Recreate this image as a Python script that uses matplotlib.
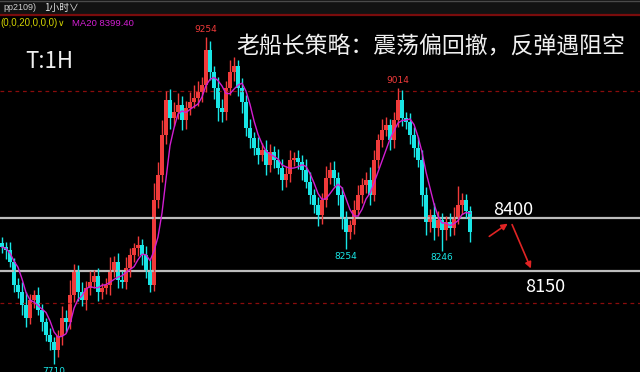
import matplotlib
matplotlib.use("Agg")
import matplotlib.pyplot as plt
from matplotlib.patches import Rectangle
import numpy as np
import pandas as pd

## Data (1H candles, ~4px per bar)
first_open = 8280
closes = [8263, 8249, 8192, 8084, 8051, 7990, 7928, 8013, 8037, 7966,
          7909, 7848, 7815, 7777, 7843, 7928, 7909, 8037, 8155, 8051,
          8013, 8070, 8098, 8126, 8051, 8070, 8084, 8155, 8192, 8108,
          8098, 8164, 8225, 8258, 8273, 8225, 8155, 8084, 8485, 8603,
          8792, 8957, 8872, 8900, 8933, 8862, 8919, 8947, 8966, 8994,
          9027, 9192, 9089, 9013, 8919, 8900, 9013, 9089, 9117, 9013,
          8947, 8825, 8777, 8730, 8697, 8721, 8650, 8711, 8674, 8636,
          8579, 8608, 8674, 8683, 8664, 8626, 8570, 8508, 8461, 8414,
          8485, 8589, 8626, 8589, 8508, 8400, 8334, 8367, 8438, 8508,
          8556, 8579, 8508, 8674, 8768, 8815, 8839, 8768, 8862, 8957,
          8872, 8853, 8792, 8730, 8674, 8508, 8381, 8414, 8353, 8391,
          8343, 8381, 8353, 8400, 8461, 8485, 8433, 8334]
wick_up = [30, 25, 40, 20, 35, 45, 60, 30, 25, 40,
           30, 20, 35, 25, 30, 55, 40, 70, 30, 25,
           45, 35, 50, 30, 40, 25, 35, 60, 30, 45,
           40, 50, 35, 25, 40, 30, 45, 55, 80, 60,
           70, 40, 50, 45, 55, 40, 35, 45, 60, 50,
           40, 62, 45, 30, 50, 40, 35, 55, 40, 30,
           45, 35, 40, 30, 50, 35, 45, 40, 30, 50,
           40, 35, 45, 30, 40, 35, 50, 45, 30, 40,
           35, 55, 40, 45, 30, 40, 35, 25, 45, 50,
           35, 40, 60, 45, 30, 50, 35, 30, 40, 57,
           45, 30, 40, 35, 50, 45, 40, 30, 55, 40,
           35, 30, 45, 50, 90, 35, 30, 25]
wick_dn = [30, 40, 25, 35, 30, 45, 40, 30, 35, 25,
           40, 30, 35, 67, 30, 40, 45, 30, 35, 40,
           30, 45, 35, 30, 40, 35, 30, 45, 35, 40,
           30, 35, 40, 30, 35, 45, 40, 34, 30, 40,
           35, 45, 50, 40, 35, 45, 40, 35, 30, 40,
           45, 35, 40, 50, 60, 45, 40, 35, 45, 40,
           50, 40, 45, 35, 40, 30, 45, 35, 40, 30,
           45, 35, 40, 30, 35, 45, 30, 40, 35, 50,
           40, 35, 30, 40, 45, 50, 80, 35, 40, 30,
           35, 40, 45, 30, 40, 35, 30, 45, 40, 35,
           40, 35, 45, 40, 35, 50, 60, 45, 55, 40,
           97, 45, 40, 35, 30, 40, 35, 45]

support_lines = [8400, 8150]     # solid gray levels
grid_dashed = [9000, 8000]       # dark red dashed levels
peak_labels = [(51, 9254, "9254", "high"), (99, 9014, "9014", "high"),
               (13, 7710, "7710", "low"), (86, 8254, "8254", "low"),
               (110, 8246, "8246", "low")]

title = "老船长策略：震荡偏回撤，反弹遇阻空"
RED = "#f03a3a"
CYAN = "#19e6e6"

plt.rcParams['font.family'] = ['Noto Sans CJK SC', 'DejaVu Sans']

closes = np.array(closes, dtype=float)
opens = np.concatenate([[first_open], closes[:-1]])
highs = np.maximum(opens, closes) + np.array(wick_up)
lows = np.minimum(opens, closes) - np.array(wick_dn)
idx = np.arange(len(closes))
ma = pd.Series(closes).rolling(5, min_periods=1).mean()

fig = plt.figure(figsize=(6.4, 3.72), dpi=100, facecolor="black")
ax = fig.add_axes([0, 0, 1, 1], facecolor="black")
ax.set_xlim(-0.5, 159.5)
ax.set_ylim(7674, 9428)
ax.axis("off")

for lv in grid_dashed:
    ax.axhline(lv, color="#8a0c0c", lw=0.9, ls=(0, (3, 3)))
for lv in support_lines:
    ax.axhline(lv, color="#bdbdbd", lw=1.6)

cols = [RED if c >= o else CYAN for o, c in zip(opens, closes)]
ax.vlines(idx, lows, highs, colors=cols, lw=1.0)
ax.bar(idx, np.maximum(np.abs(closes - opens), 4), bottom=np.minimum(opens, closes),
       width=0.8, color=cols, linewidth=0)
ax.plot(idx, ma, color="#d21ed2", lw=1.0)

for i, p, s, kind in peak_labels:
    if kind == "high":
        ax.annotate(s, (i, p), xytext=(0, 2), textcoords="offset points",
                    ha="center", va="bottom", color=RED, fontsize=6.5, family="DejaVu Sans")
    else:
        ax.annotate(s, (i, p), xytext=(0, -2), textcoords="offset points",
                    ha="center", va="top", color=CYAN, fontsize=6.5, family="DejaVu Sans")

# forecast arrows
arw = dict(arrowstyle="-|>", color="#e02424", lw=1.2, mutation_scale=9)
ax.annotate("", xy=(127.0, 8381), xytext=(121.25, 8306), arrowprops=arw)
ax.annotate("", xy=(132.5, 8150), xytext=(127.25, 8381), arrowprops=arw)
ax.text(127.75, 8438, "8400", color="white", fontsize=13, ha="center", va="center")
ax.text(135.75, 8075, "8150", color="white", fontsize=13, ha="center", va="center")

# header bar
fig.patches.append(Rectangle((0, 1 - 14 / 372), 1, 14 / 372, transform=fig.transFigure,
                             facecolor="#121212", edgecolor="none", zorder=5))
fig.add_artist(plt.Line2D([0, 1], [1 - 15 / 372] * 2, transform=fig.transFigure,
                          color="#7a0c0c", lw=1.6, zorder=6))
fig.add_artist(plt.Line2D([0, 1], [1 - 0.5 / 372] * 2, transform=fig.transFigure,
                          color="#4a4a4a", lw=1.0, zorder=6))
fig.text(3 / 640, 1 - 7.5 / 372, "pp2109)", color="#cfcfcf", fontsize=6.5, va="center",
         family="Liberation Sans", zorder=7)
fig.text(44 / 640, 1 - 7.5 / 372, "1小时∨", color="#e6e6e6", fontsize=7, va="center", zorder=7)
fig.text(0, 1 - 23 / 372, "(0,0,20,0,0,0)", color="#d2d200", fontsize=7, va="center",
         family="Liberation Sans")
fig.text(58 / 640, 1 - 23 / 372, "∨", color="#d2d200", fontsize=6.5, va="center",
         family="DejaVu Sans")
fig.text(72 / 640, 1 - 23 / 372, "MA20 8399.40", color="#d21ed2", fontsize=6.8, va="center",
         family="Liberation Sans")

fig.text(431 / 640, 1 - 47 / 372, title, color="#f0f0f0", fontsize=16.5, ha="center", va="center")
fig.text(25 / 640, 1 - 61 / 372, "T:1H", color="#f0f0f0", fontsize=16, ha="left", va="center")

fig.savefig("out.png", dpi=100, facecolor="black")
plt.close("all")
